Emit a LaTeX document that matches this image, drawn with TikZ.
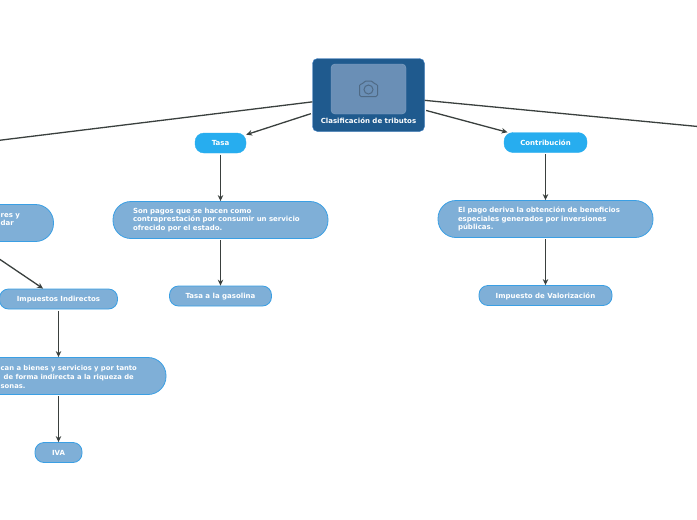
\documentclass[tikz,border=0pt]{standalone}
\usepackage{fontspec}
\setmainfont{DejaVu Sans}
\usetikzlibrary{arrows.meta}
\definecolor{rootfill}{HTML}{1F5A8E}
\definecolor{rootline}{HTML}{3A7DC4}
\definecolor{photofill}{HTML}{6A8FB6}
\definecolor{photoline}{HTML}{86A5C6}
\definecolor{iconline}{HTML}{4F6A85}
\definecolor{mainfill}{HTML}{27ADEF}
\definecolor{subfill}{HTML}{7FAFD7}
\definecolor{subline}{HTML}{3A9FE4}
\definecolor{linkline}{HTML}{3A403E}
\tikzset{
  label/.style={font=\bfseries\fontsize{7}{8.8}\selectfont, text=white},
  mainbox/.style={label, draw=mainfill, fill=mainfill, rounded corners=9pt, inner sep=0pt, text height=5.2pt, text depth=0pt},
  subbox/.style={label, draw=subline, fill=subfill, line width=0.8pt, rounded corners=9pt, inner sep=0pt, text height=5.2pt, text depth=0pt},
  descbox/.style={label, draw=subline, fill=subfill, line width=0.8pt, rounded corners=18pt, inner sep=0pt,
    minimum width=215pt, minimum height=37pt, text width=175pt, align=left},
  link/.style={draw=linkline, line width=1.3pt},
  arrow/.style={link, -{Stealth[length=6pt,width=5.5pt]}, shorten <=1.5pt}
}
\begin{document}
\begin{tikzpicture}[x=1pt,y=-1pt]
\clip (0,0) rectangle (697,520);
\fill[white] (0,0) rectangle (697,520);
\node[draw=rootline, fill=rootfill, rounded corners=5pt, minimum width=112pt, minimum height=73pt, inner sep=0pt] (root) at (368.5,95) {};
\node[draw=photoline, fill=photofill, rounded corners=4pt, minimum width=75pt, minimum height=50pt, inner sep=0pt] (photo) at (368.5,89) {};
\node[label, inner sep=0pt] (roottext) at (368.5,121) {Clasificación de tributos};
\draw[iconline, line width=1pt, rounded corners=1.5pt] (359.5,84) -- (363,84) -- (364.5,81) -- (372.5,81) -- (374,84) -- (377.5,84) -- (377.5,96.5) -- (359.5,96.5) -- cycle;
\draw[iconline, line width=1pt] (368.5,89.5) circle (4.5pt);
\coordinate (leftend) at (-100,152.5);
\coordinate (rightend) at (797,136);
\node[mainbox, minimum width=51pt, minimum height=20pt] (tasa) at (220.5,143) {Tasa};
\node[descbox] (tasadesc) at (220.5,220) {\raisebox{-1pt}{Son pagos que se hacen como}\\\raisebox{-1pt}{contraprestación por consumir un servicio}\\\raisebox{-1pt}{ofrecido por el estado.}};
\node[subbox, minimum width=102pt, minimum height=20pt] (gasolina) at (220.5,296) {Tasa a la gasolina};
\node[mainbox, minimum width=83pt, minimum height=20pt] (contribucion) at (545.5,142.5) {Contribución};
\node[descbox] (contribuciondesc) at (545.5,219) {\raisebox{-1pt}{El pago deriva la obtención de beneficios}\\\raisebox{-1pt}{especiales generados por inversiones}\\\raisebox{-1pt}{públicas.}};
\node[subbox, minimum width=133pt, minimum height=20pt] (valorizacion) at (545.5,295.5) {Impuesto de Valorización};
\node[descbox, text width=0pt] (leftdesc) at (-54,223) {};
\node[label, anchor=west, align=left, inner sep=0pt] (lefttext) at (0.5,219.5) {res y\\dar};
\node[subbox, minimum width=118pt, minimum height=20pt] (indirectos) at (58.5,299) {Impuestos Indirectos};
\node[descbox, text width=0pt] (indirectosdesc) at (58.5,376) {};
\node[label, font=\bfseries\fontsize{6.8}{8.8}\selectfont, anchor=west, align=left, inner sep=0pt] (indirectostext) at (0.5,377) {can a bienes y servicios y por tanto\\\hspace*{3pt}de forma indirecta a la riqueza de\\sonas.};
\node[subbox, minimum width=47pt, minimum height=20pt] (iva) at (58.5,452.5) {IVA};
\draw[link] (root) -- (leftend);
\draw[link] (root) -- (rightend);
\draw[arrow] (root) -- (tasa);
\draw[arrow] (root) -- (contribucion);
\draw[arrow] (tasa) -- (tasadesc);
\draw[arrow] (tasadesc) -- (gasolina);
\draw[arrow] (contribucion) -- (contribuciondesc);
\draw[arrow] (contribuciondesc) -- (valorizacion);
\draw[arrow] (leftdesc) -- (indirectos);
\draw[arrow] (indirectos) -- (indirectosdesc);
\draw[arrow] (indirectosdesc) -- (iva);
\end{tikzpicture}
\end{document}
